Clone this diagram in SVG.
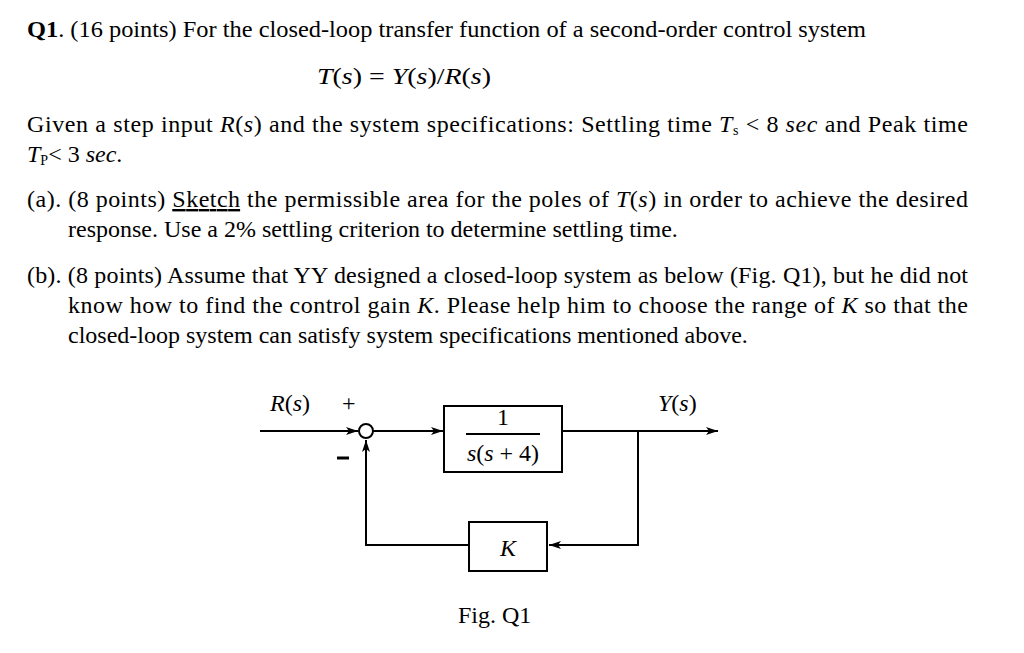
<svg xmlns="http://www.w3.org/2000/svg" width="1024" height="653" viewBox="0 0 1024 653">
<defs><marker id="ah" markerWidth="12" markerHeight="8" refX="12" refY="4" orient="auto" markerUnits="userSpaceOnUse"><path d="M0,0 L12,4 L0,8 L3,4 Z" fill="#000"/></marker></defs>
<style>text{font-family:"Liberation Serif","Times New Roman",serif;font-size:24px;fill:#000}.i{font-style:italic}.ln{stroke:#000;stroke-width:2;fill:none}.bx{stroke:#000;stroke-width:2;fill:#fff}</style>
<rect width="1024" height="653" fill="#fff"/>
<text x="27" y="37" textLength="839" lengthAdjust="spacingAndGlyphs"><tspan font-weight="bold">Q1</tspan>. (16 points) For the closed-loop transfer function of a second-order control system</text>
<text x="317" y="84" textLength="174" lengthAdjust="spacingAndGlyphs"><tspan class="i">T</tspan>(<tspan class="i">s</tspan>) = <tspan class="i">Y</tspan>(<tspan class="i">s</tspan>)/<tspan class="i">R</tspan>(<tspan class="i">s</tspan>)</text>
<text x="27" y="132" textLength="941" lengthAdjust="spacing">Given a step input <tspan class="i">R</tspan>(<tspan class="i">s</tspan>) and the system specifications: Settling time <tspan class="i">T</tspan><tspan font-size="14" dy="3">s</tspan><tspan dy="-3"> &lt; 8 </tspan><tspan class="i">sec</tspan> and Peak time</text>
<text x="27" y="162"><tspan class="i">T</tspan><tspan font-size="14" dy="3">P</tspan><tspan dy="-3">&lt; 3 </tspan><tspan class="i">sec</tspan>.</text>
<text x="27" y="207" textLength="941" lengthAdjust="spacing">(a). (8 points) <tspan text-decoration="underline">Sketch</tspan> the permissible area for the poles of <tspan class="i">T</tspan>(<tspan class="i">s</tspan>) in order to achieve the desired</text>
<text x="68" y="237">response. Use a 2% settling criterion to determine settling time.</text>
<text x="27" y="283" textLength="941" lengthAdjust="spacing">(b). (8 points) Assume that YY designed a closed-loop system as below (Fig. Q1), but he did not</text>
<text x="68" y="313" textLength="900" lengthAdjust="spacing">know how to find the control gain <tspan class="i">K</tspan>. Please help him to choose the range of <tspan class="i">K</tspan> so that the</text>
<text x="68" y="343">closed-loop system can satisfy system specifications mentioned above.</text>
<g id="connectors">
<line class="ln" x1="260" y1="431" x2="358" y2="431" marker-end="url(#ah)"/>
<line class="ln" x1="373" y1="431" x2="443" y2="431" marker-end="url(#ah)"/>
<line class="ln" x1="562" y1="431" x2="718" y2="431" marker-end="url(#ah)"/>
<polyline class="ln" points="638,431 638,545 549,545" marker-end="url(#ah)"/>
<polyline class="ln" points="469,545 366,545 366,440" marker-end="url(#ah)"/>
</g>
<g id="sum"><circle class="bx" cx="366" cy="431" r="7"/></g>
<g id="plant"><rect class="bx" x="444" y="406" width="118" height="66"/><text x="503" y="425" text-anchor="middle" font-size="20">1</text><line class="ln" x1="466" y1="434" x2="540" y2="434" stroke-width="1"/><text x="503" y="461" text-anchor="middle"><tspan class="i">s</tspan>(<tspan class="i">s</tspan> + 4)</text></g>
<g id="gain"><rect class="bx" x="469" y="522" width="78" height="49"/><text x="508" y="556" text-anchor="middle" class="i">K</text></g>
<text x="270" y="411" class="i">R<tspan font-style="normal">(</tspan>s<tspan font-style="normal">)</tspan></text>
<text x="342" y="411">+</text>
<line x1="337" y1="458" x2="349" y2="458" stroke="#000" stroke-width="3"/>
<text x="658" y="411" class="i">Y<tspan font-style="normal">(</tspan>s<tspan font-style="normal">)</tspan></text>
<text x="458" y="623">Fig. Q1</text>
</svg>
